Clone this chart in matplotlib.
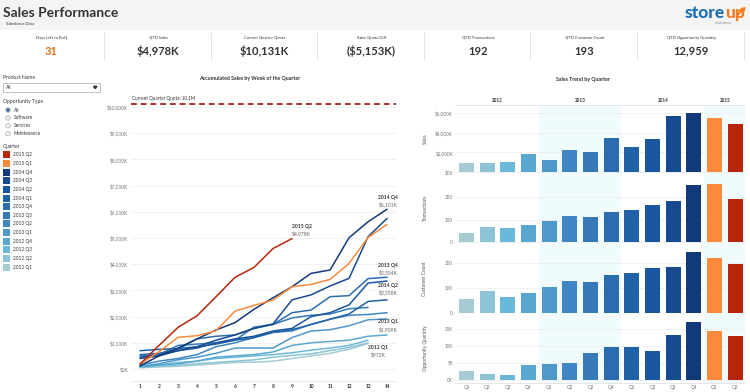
import matplotlib.pyplot as plt
from matplotlib.patches import Rectangle, Circle, Polygon

plt.rcParams['font.family'] = ['Lato', 'DejaVu Sans']

W, H = 750, 392

# quarters in time order, with the colour each one gets
quarters = ['2012 Q1', '2012 Q2', '2012 Q3', '2012 Q4',
            '2013 Q1', '2013 Q2', '2013 Q3', '2013 Q4',
            '2014 Q1', '2014 Q2', '2014 Q3', '2014 Q4',
            '2015 Q1', '2015 Q2']
colors = ['#a5cbd3', '#8cc3d6', '#6bb9da', '#5aa8d2',
          '#4f98ca', '#3f86c2', '#3679b6', '#2a6dae',
          '#1f62a8', '#1a55a0', '#174a8e', '#12397a',
          '#fd8a3b', '#b5260c']
q_labels = ['Q1', 'Q2', 'Q3', 'Q4'] * 3 + ['Q1', 'Q2']
years = ['2012', '2013', '2014', '2015']

# bar chart values per quarter
sales_k = [876, 910, 1045, 1820, 1280, 2290, 2090, 3470, 2560, 3340, 5760, 6070, 5490, 4920]
transactions = [41, 68, 62, 74, 95, 117, 113, 133, 144, 166, 184, 255, 259, 192]
customers = [53, 87, 61, 79, 103, 125, 124, 152, 157, 177, 181, 241, 220, 193]
opp_k = [2.6, 1.75, 1.46, 4.3, 4.6, 5.1, 8.1, 9.8, 9.8, 8.6, 13.3, 17.1, 14.6, 12.96]

# accumulated sales ($K) by week of quarter
weeks = list(range(1, 15))
acc_sales = {
    '2012 Q1': [50, 80, 100, 150, 200, 250, 260, 300, 400, 500, 600, 750, 972],
    '2012 Q2': [60, 100, 150, 200, 250, 300, 350, 450, 520, 580, 700, 820, 1000],
    '2012 Q3': [80, 150, 250, 300, 400, 450, 500, 550, 620, 720, 800, 900, 1100],
    '2012 Q4': [100, 150, 200, 300, 450, 500, 550, 650, 900, 1000, 1050, 1100, 1250, 1300],
    '2013 Q1': [100, 200, 350, 450, 600, 800, 800, 800, 1200, 1450, 1500, 1650, 1880, 1909],
    '2013 Q2': [150, 300, 400, 550, 850, 1000, 1200, 1400, 1450, 1700, 1900, 2050, 2080, 2150],
    '2013 Q3': [500, 550, 900, 950, 1000, 1100, 1600, 1700, 1950, 2050, 2100, 2300, 2350],
    '2013 Q4': [550, 600, 750, 1150, 1250, 1300, 1550, 1700, 2150, 2250, 2760, 2800, 3450, 3504],
    '2014 Q1': [700, 750, 780, 850, 950, 1100, 1200, 1400, 1500, 1700, 1900, 2100, 2580, 2640],
    '2014 Q2': [450, 550, 700, 800, 1000, 1150, 1250, 1450, 1550, 2000, 2150, 2450, 3280, 3358],
    '2014 Q3': [400, 500, 700, 850, 1100, 1300, 1550, 1720, 2640, 2830, 3170, 3460, 5050, 5750],
    '2014 Q4': [120, 500, 800, 1150, 1490, 1770, 2280, 2720, 3140, 3650, 3780, 5010, 5620, 6101],
    '2015 Q1': [190, 660, 1210, 1270, 1460, 2210, 2430, 2630, 3140, 3230, 3420, 4030, 5020, 5522],
    '2015 Q2': [190, 900, 1590, 2030, 2760, 3500, 3880, 4600, 4978],
}
quota_k = 10131

kpi_labels = ['Days Left to EoQ', 'QTD Sales', 'Current Quarter Quota', 'Sales Quota Diff',
              'QTD Transactions', 'QTD Customer Count', 'QTD Opportunity Quantity']
kpi_values = ['31', '$4,978K', '$10,131K', '($5,153K)', '192', '193', '12,959']
opp_types = ['All', 'Software', 'Services', 'Maintenance']


def rect(x0, y0, x1, y1):
    return [x0 / W, 1 - y1 / H, (x1 - x0) / W, (y1 - y0) / H]


fig = plt.figure(figsize=(7.5, 3.92), dpi=100)

# background layer in pixel coordinates
bg = fig.add_axes([0, 0, 1, 1], zorder=-1)
bg.set_xlim(0, W)
bg.set_ylim(H, 0)
bg.axis('off')

bg.add_patch(Rectangle((0, 0), W, 30, color='#f4f4f4', lw=0))
bg.text(3, 13, 'Sales Performance', fontsize=10, fontweight='bold', color='#333333', va='center')
bg.text(6, 24, 'Salesforce Data', fontsize=3, color='#333333', va='center')
# logo
bg.text(725, 13, 'store', fontsize=12.5, fontweight='black', color='#1f6fb5', va='center', ha='right')
bg.text(725, 13, 'up', fontsize=12.5, fontweight='black', color='#f47b20', va='center', ha='left')
bg.plot([738, 743], [14.5, 9.5], color='#f47b20', lw=1.4)
bg.add_patch(Polygon([[740.5, 8], [745.5, 7], [744.5, 12]], color='#f47b20', lw=0))
bg.text(723, 23, 'cloud software', fontsize=1.8, color='#888888', va='center', ha='center')

# KPI strip
for i, (lab, val) in enumerate(zip(kpi_labels, kpi_values)):
    cx = 51.5 + 106.6 * i
    bg.text(cx, 37.5, lab, fontsize=3, color='#333333', ha='center', va='center')
    bg.text(cx, 51, val, fontsize=8, fontweight='bold', ha='center', va='center',
            color='#e06f1f' if i == 0 else '#333333')
    x = 104 + 106.6 * i
    bg.plot([x, x], [33, 60], color='#e4e4e4', lw=0.7)

# filters
bg.text(3, 77.5, 'Product Name', fontsize=3.6, color='#333333', va='center')
bg.add_patch(Rectangle((3, 83), 97, 9, facecolor='white', edgecolor='#aaaaaa', lw=0.5))
bg.text(6, 87.5, 'All', fontsize=3.4, color='#333333', va='center')
bg.add_patch(Polygon([[93.5, 86.3], [97, 86.3], [95.25, 88.6]], color='#333333'))
bg.text(3, 101.5, 'Opportunity Type', fontsize=3.6, color='#333333', va='center')
for i, t in enumerate(opp_types):
    y = 110 + 7.9 * i
    bg.add_patch(Circle((8, y), 2.3, facecolor='#f0f0f0', edgecolor='#999999', lw=0.4))
    if i == 0:
        bg.add_patch(Circle((8, y), 1.1, color='#4a6a90'))
    bg.text(14, y, t, fontsize=3.4, color='#333333', va='center')

bg.text(3, 146, 'Quarter', fontsize=3.6, color='#333333', va='center')
for i, (q, c) in enumerate(zip(quarters[::-1], colors[::-1])):
    y = 154.7 + 8.66 * i
    bg.add_patch(Rectangle((3, y - 3.5), 7, 7, color=c, lw=0))
    bg.text(13, y, q, fontsize=3.4, color='#333333', va='center')

# accumulated sales line chart
bg.text(250, 78, 'Accumulated Sales by Week of the Quarter', fontsize=3.8,
        fontweight='bold', ha='center', va='center', color='#333333')
ax = fig.add_axes(rect(131, 95, 396, 381))
for q, c in zip(quarters, colors):
    v = acc_sales[q]
    ax.plot(weeks[:len(v)], v, color=c, lw=1.1, solid_capstyle='round')
ax.axhline(quota_k, color='#b03030', lw=1.4, ls=(0, (3, 2)))
ax.annotate('Current Quarter Quota: 10.1M', xy=(0, quota_k), xycoords=('axes fraction', 'data'),
            xytext=(1, 5), textcoords='offset pixels', fontsize=3.3, color='#333333', va='center')
ax.set_xlim(0.526, 14.47)
ax.set_ylim(-458, 10460)
ax.set_xticks(weeks)
ax.set_xticklabels([str(w) for w in weeks], fontweight='bold', color='#333333')
ax.set_yticks(range(0, 10001, 1000))
ax.set_yticklabels(['${:,}K'.format(v) for v in range(0, 10001, 1000)], color='#777777')
ax.tick_params(length=0, labelsize=3.5, pad=2)
ax.yaxis.grid(True, color='#efefef', lw=0.6)
ax.set_axisbelow(True)
for s in ax.spines.values():
    s.set_visible(False)
ax.spines['bottom'].set_visible(True)
ax.spines['bottom'].set_color('#e6e6e6')
ax.spines['bottom'].set_linewidth(0.6)

# end labels: (quarter, ha, x offset, name y offset, value y offset) in pixels
end_labels = [('2015 Q2', 'left', 0, 12, 5),
              ('2014 Q4', 'center', 1, 12, 4.7),
              ('2013 Q4', 'center', 1, 11.5, 4.5),
              ('2014 Q2', 'center', 1, -4.7, -11.7),
              ('2013 Q1', 'center', 1, -3, -10),
              ('2012 Q1', 'center', 10, -4, -11.5)]
for q, ha, dx, dn, dv in end_labels:
    v = acc_sales[q]
    xy = (len(v), v[-1])
    ax.annotate(q, xy=xy, xytext=(dx, dn), textcoords='offset pixels', ha=ha, va='center',
                fontsize=3.6, fontweight='bold', color='#333333')
    ax.annotate('${:,}K'.format(v[-1]), xy=xy, xytext=(dx, dv), textcoords='offset pixels',
                ha=ha, va='center', fontsize=3.6, color='#666666')

# sales trend bar panels
bg.text(583, 79, 'Sales Trend by Quarter', fontsize=3.8, fontweight='bold',
        ha='center', va='center', color='#333333')
idx = list(range(len(quarters)))
panels = [
    (sales_k, 'Sales', (105, 173.3), (-130, 6850), [0, 2000, 4000, 6000],
     ['$0K', '$2,000K', '$4,000K', '$6,000K']),
    (transactions, 'Transactions', (173.3, 243.3), (-6, 307), [0, 100, 200], ['0', '100', '200']),
    (customers, 'Customer Count', (243.3, 313.3), (-3, 277), [0, 100, 200], ['0', '100', '200']),
    (opp_k, 'Opportunity Quantity', (313.3, 382.7), (-0.8, 19.7), [0, 5, 10, 15],
     ['0K', '5K', '10K', '15K']),
]
for n, (vals, name, (y0, y1), ylim, ticks, tlabels) in enumerate(panels):
    bx = fig.add_axes(rect(455, y0, 745, y1))
    bx.set_xlim(-0.557, 13.48)
    bx.set_ylim(*ylim)
    bx.axvspan(3.5, 7.5, color='#effbfd', lw=0, zorder=0)
    bx.axvspan(11.5, 13.48, color='#effbfd', lw=0, zorder=0)
    bx.bar(idx, vals, width=0.72, color=colors, zorder=2)
    bx.set_yticks(ticks)
    bx.set_yticklabels(tlabels, color='#777777')
    bx.yaxis.grid(True, color='#efefef', lw=0.6)
    bx.set_axisbelow(True)
    bx.tick_params(length=0, labelsize=3.3, pad=1.5)
    for s in bx.spines.values():
        s.set_visible(False)
    bx.spines['bottom'].set_visible(True)
    bx.spines['bottom'].set_color('#e2e2e2')
    bx.spines['bottom'].set_linewidth(0.6)
    if n == 0:
        bx.spines['top'].set_visible(True)
        bx.spines['top'].set_color('#e2e2e2')
        bx.spines['top'].set_linewidth(0.6)
        for k, yr in enumerate(years):
            members = [i for i, q in enumerate(quarters) if q.startswith(yr)]
            c = (members[0] + members[-1]) / 2
            bx.annotate(yr, xy=(c, 1), xycoords=('data', 'axes fraction'), xytext=(0, 4),
                        textcoords='offset pixels', ha='center', va='center',
                        fontsize=3.3, fontweight='bold', color='#333333')
    if n == len(panels) - 1:
        bx.set_xticks(idx)
        bx.set_xticklabels(q_labels, color='#777777')
    else:
        bx.set_xticks([])
    bg.text(425, (y0 + y1) / 2, name, fontsize=3.4, color='#555555', rotation=90,
            ha='center', va='center')

fig.savefig('out.png', dpi=100)
